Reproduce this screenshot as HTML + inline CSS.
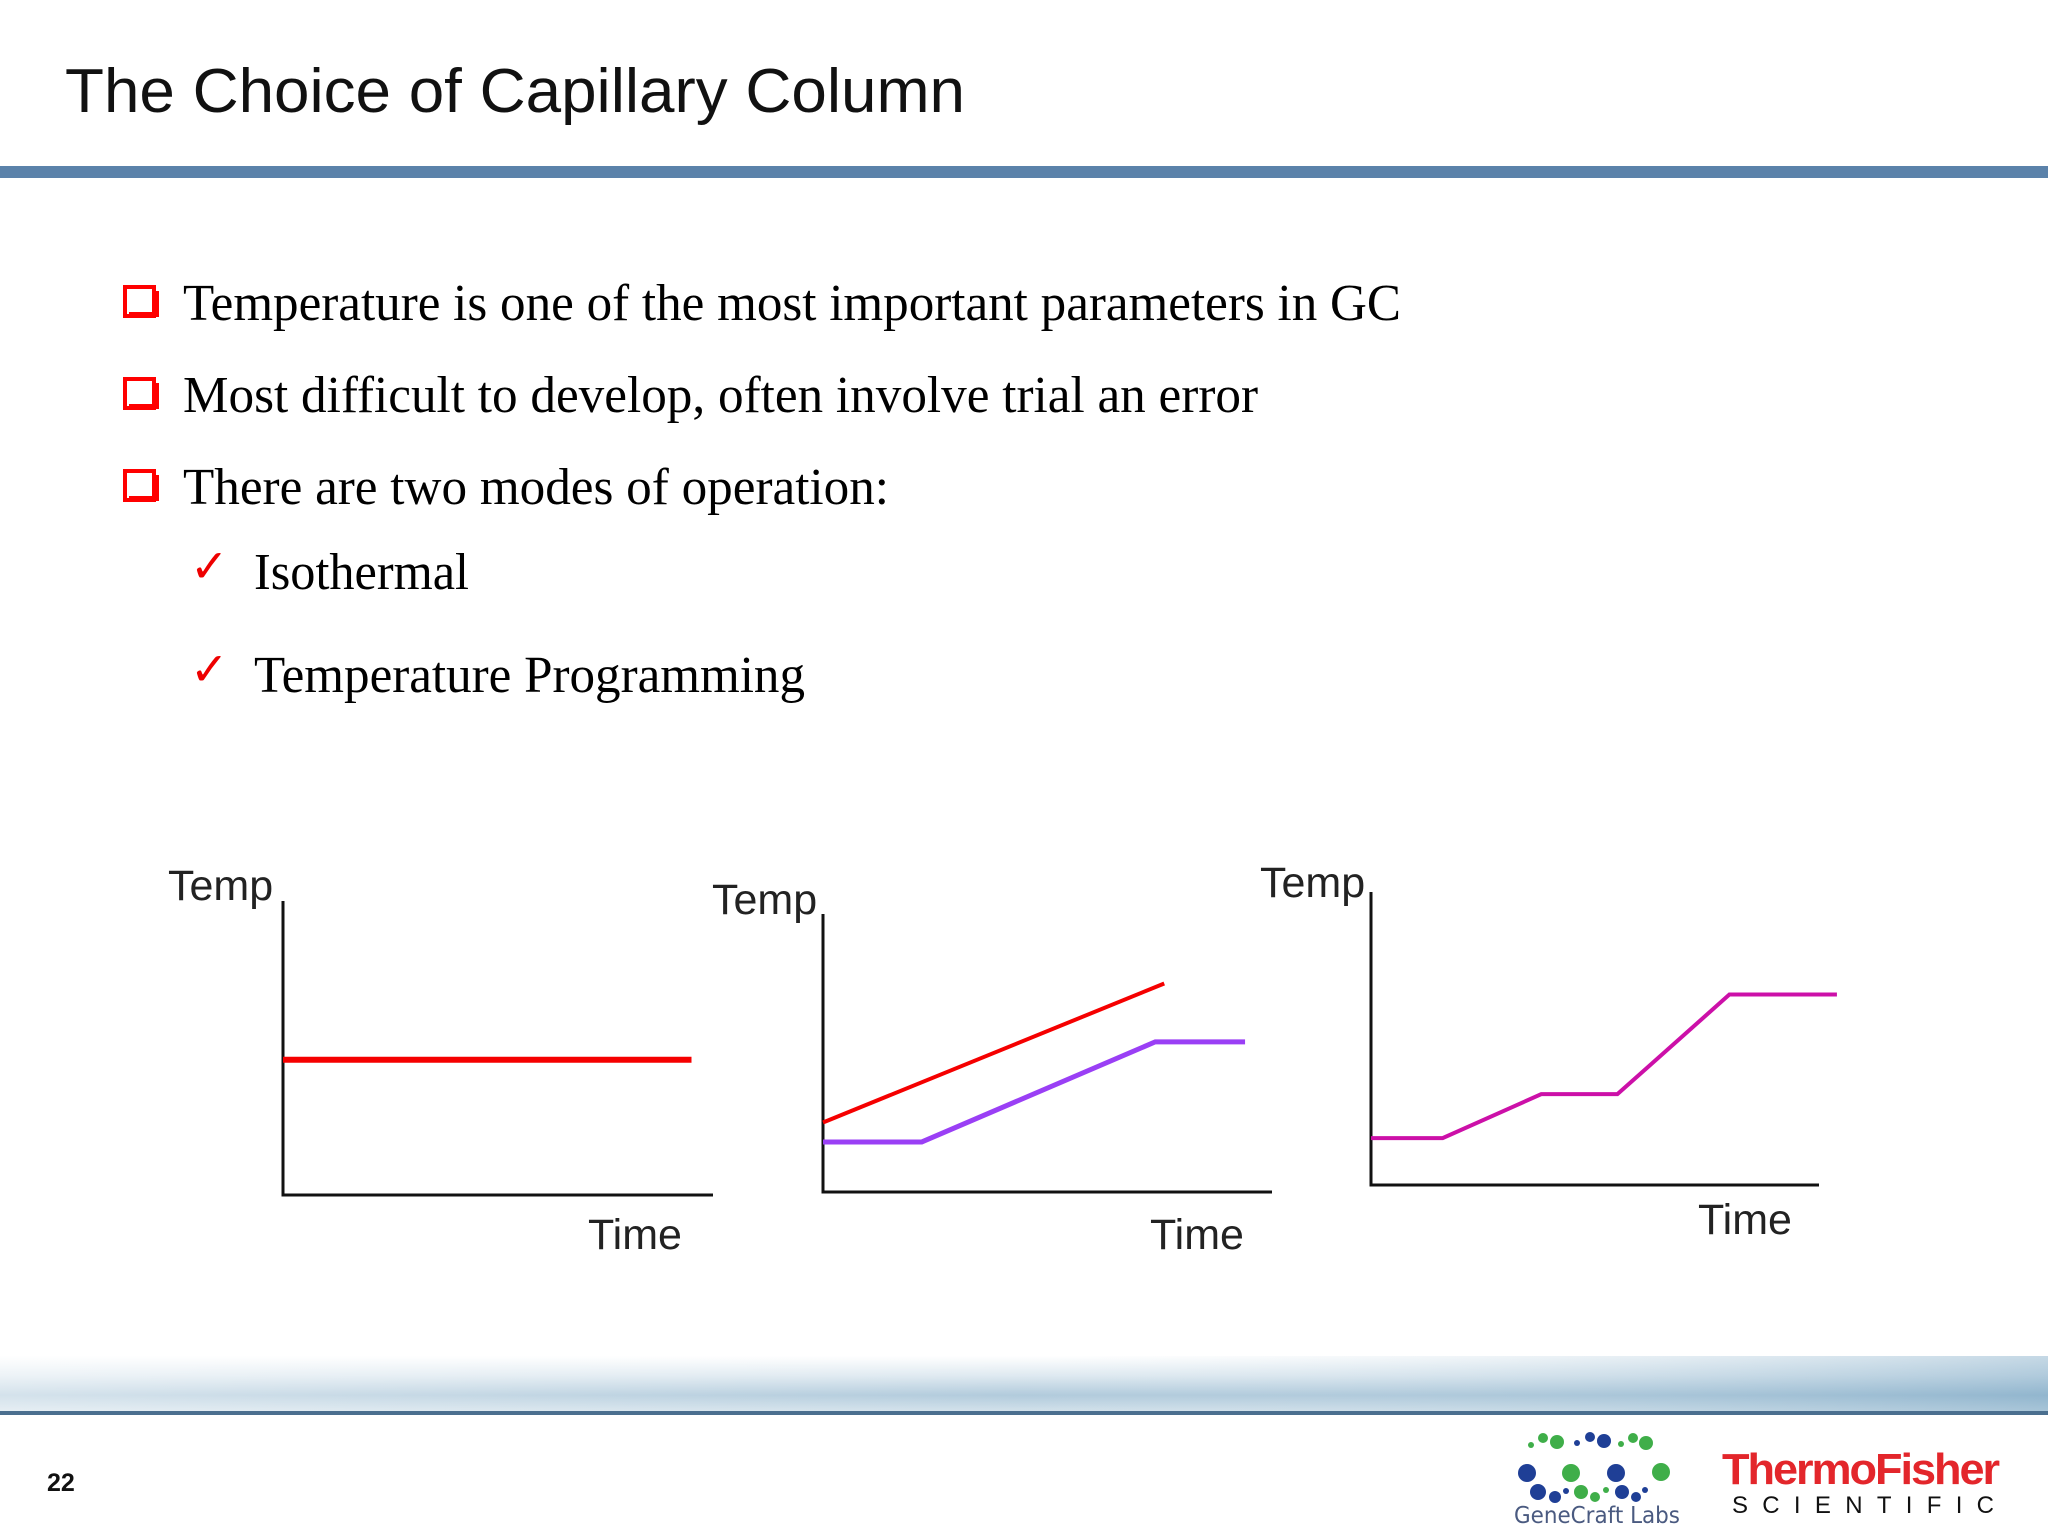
<!DOCTYPE html>
<html><head><meta charset="utf-8"><style>
html,body{margin:0;padding:0;background:#fff;}
svg{display:block;}
</style></head><body>
<svg id="slide" width="2048" height="1536" viewBox="0 0 2048 1536" xmlns="http://www.w3.org/2000/svg">
<defs>
<linearGradient id="band" x1="0" y1="0" x2="0" y2="1">
<stop offset="0" stop-color="#ffffff"/><stop offset="0.35" stop-color="#dbe7ef"/><stop offset="0.7" stop-color="#a9c5d8"/><stop offset="1" stop-color="#cfdfe9"/>
</linearGradient>
<linearGradient id="bandh" x1="0" y1="0" x2="1" y2="0">
<stop offset="0" stop-color="#fff" stop-opacity="0.5"/><stop offset="0.5" stop-color="#fff" stop-opacity="0.1"/><stop offset="1" stop-color="#6f9fbf" stop-opacity="0.4"/>
</linearGradient>
</defs>
<text x="65" y="112" font-family="Liberation Sans, sans-serif" font-size="62" fill="#111" textLength="900" lengthAdjust="spacingAndGlyphs">The Choice of Capillary Column</text>
<rect x="0" y="166" width="2048" height="12" fill="#5b82aa"/>

<g font-family="Liberation Serif, serif" fill="#000">
<g>
<rect x="125" y="287" width="29" height="29" fill="none" stroke="#f00" stroke-width="4"/><rect x="129" y="312" width="30" height="5" fill="#f00"/><rect x="154" y="291" width="5" height="26" fill="#f00"/>
<text x="183" y="320" font-size="52" textLength="1218" lengthAdjust="spacingAndGlyphs">Temperature is one of the most important parameters in GC</text></g>
<g>
<rect x="125" y="379" width="29" height="29" fill="none" stroke="#f00" stroke-width="4"/><rect x="129" y="404" width="30" height="5" fill="#f00"/><rect x="154" y="383" width="5" height="26" fill="#f00"/>
<text x="183" y="412" font-size="52" textLength="1075" lengthAdjust="spacingAndGlyphs">Most difficult to develop, often involve trial an error</text></g>
<g>
<rect x="125" y="471" width="29" height="29" fill="none" stroke="#f00" stroke-width="4"/><rect x="129" y="496" width="30" height="5" fill="#f00"/><rect x="154" y="475" width="5" height="26" fill="#f00"/>
<text x="183" y="504" font-size="52" textLength="706" lengthAdjust="spacingAndGlyphs">There are two modes of operation:</text></g>
<g>
<text x="190" y="582" font-size="46" fill="#e00" font-family="DejaVu Sans, sans-serif">✓</text>
<text x="254" y="589" font-size="52" textLength="215" lengthAdjust="spacingAndGlyphs">Isothermal</text></g>
<g>
<text x="190" y="685" font-size="46" fill="#e00" font-family="DejaVu Sans, sans-serif">✓</text>
<text x="254" y="692" font-size="52" textLength="551" lengthAdjust="spacingAndGlyphs">Temperature Programming</text></g>
</g>

<g id="charts" font-family="Liberation Sans, sans-serif" font-size="43" fill="#222"></g>

<g>
<rect x="0" y="1356" width="2048" height="56" fill="url(#band)"/>
<rect x="0" y="1356" width="2048" height="56" fill="url(#bandh)"/>
<rect x="0" y="1411" width="2048" height="4" fill="#4b6f8f"/>
<text x="47" y="1491" font-family="Liberation Sans, sans-serif" font-weight="bold" font-size="25" fill="#111">22</text>
<g>
<g fill="#1f3f96"><circle cx="1527" cy="1473" r="9"/><circle cx="1538" cy="1492" r="8"/><circle cx="1555" cy="1497" r="6"/><circle cx="1566" cy="1491" r="3"/><circle cx="1577" cy="1443" r="3"/><circle cx="1590" cy="1437" r="5"/><circle cx="1604" cy="1441" r="7"/><circle cx="1616" cy="1473" r="9"/><circle cx="1622" cy="1492" r="7"/><circle cx="1636" cy="1497" r="5"/><circle cx="1645" cy="1490" r="3"/></g>
<g fill="#3fae49"><circle cx="1531" cy="1445" r="3"/><circle cx="1543" cy="1438" r="5"/><circle cx="1557" cy="1442" r="7"/><circle cx="1571" cy="1473" r="9"/><circle cx="1581" cy="1492" r="7"/><circle cx="1595" cy="1497" r="5"/><circle cx="1606" cy="1490" r="3"/><circle cx="1621" cy="1444" r="3"/><circle cx="1633" cy="1438" r="5"/><circle cx="1646" cy="1443" r="7"/><circle cx="1661" cy="1472" r="9"/></g>
<text x="1514" y="1523" font-family="DejaVu Sans, sans-serif" font-size="23" fill="#4a5a80" textLength="166" lengthAdjust="spacingAndGlyphs">GeneCraft Labs</text>
</g>
<g>
<text x="1722" y="1484" font-family="Liberation Sans, sans-serif" font-weight="bold" font-size="44" fill="#e3262b" textLength="276" lengthAdjust="spacingAndGlyphs" letter-spacing="-2">ThermoFisher</text>
<text x="1732" y="1513" font-family="Liberation Sans, sans-serif" font-size="24" fill="#111" textLength="262" lengthAdjust="spacing">SCIENTIFIC</text>
</g>
</g>
</svg>
<script>
// chart data (time and temperature in % of axis range)
const c1Time = [0, 95];
const c1Temp = [46, 46];
const c2RedTime = [0, 76];
const c2RedTemp = [25, 75];
const c2PurpleTime = [0, 22, 74, 94];
const c2PurpleTemp = [18, 18, 54, 54];
const c3Time = [0, 16, 38, 55, 80, 104];
const c3Temp = [16, 16, 31, 31, 65, 65];

const NS = 'http://www.w3.org/2000/svg';
const root = document.getElementById('charts');
const panels = [
  {name:'isothermal-chart', ox:283, oy:1195, w:430, h:294, top:901, tempX:168, tempY:900, timeX:588, timeY:1249,
   series:[{name:'isothermal-line', t:c1Time, v:c1Temp, color:'#f50000', sw:6}]},
  {name:'programmed-chart', ox:823, oy:1192, w:449, h:278, top:914, tempX:712, tempY:914, timeX:1150, timeY:1249,
   series:[{name:'ramp-red-line', t:c2RedTime, v:c2RedTemp, color:'#f50000', sw:4},
           {name:'ramp-purple-line', t:c2PurpleTime, v:c2PurpleTemp, color:'#9a3ff5', sw:5}]},
  {name:'multi-ramp-chart', ox:1371, oy:1185, w:448, h:293, top:892, tempX:1260, tempY:897, timeX:1698, timeY:1234,
   series:[{name:'multi-ramp-line', t:c3Time, v:c3Temp, color:'#cc10a8', sw:4}]}
];
function mk(tag, attrs){const e=document.createElementNS(NS,tag);for(const k in attrs)e.setAttribute(k,attrs[k]);return e;}
panels.forEach(p=>{
  const g = mk('g',{});
  
  
  const xs = t => p.ox + t/100*p.w;
  const ys = v => p.oy - v/100*p.h;
  const axes = mk('path',{d:`M${p.ox},${p.top} V${p.oy} H${p.ox+p.w}`, fill:'none', stroke:'#111', 'stroke-width':3});
  
  
  g.appendChild(axes);
  p.series.forEach(s=>{
    const pts = s.t.map((t,i)=>xs(t)+','+ys(s.v[i])).join(' ');
    const pl = mk('polyline',{points:pts, fill:'none', stroke:s.color, 'stroke-width':s.sw});
    
    
    g.appendChild(pl);
  });
  const ty = mk('text',{x:p.tempX, y:p.tempY});
  ty.textContent = 'Temp';
  
  
  g.appendChild(ty);
  const tx = mk('text',{x:p.timeX, y:p.timeY});
  tx.textContent = 'Time';
  
  
  g.appendChild(tx);
  root.appendChild(g);
});
</script>
</body></html>
